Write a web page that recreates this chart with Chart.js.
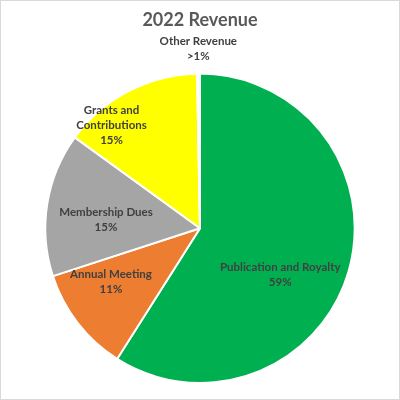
<!DOCTYPE html>
<html>
<head>
<meta charset="utf-8">
<script src="https://cdn.jsdelivr.net/npm/chart.js@4"></script>
<style>
  html, body { margin: 0; padding: 0; background: #fff; }
  #wrap { width: 400px; height: 400px; }
</style>
</head>
<body>
<div id="wrap"><canvas id="chart" width="400" height="400"></canvas></div>
<script>
// chart data
const categories = ["Publication and Royalty", "Annual Meeting", "Membership Dues", "Grants and Contributions", "Other Revenue"]
const revenueShare = [59, 11, 15, 14.7, 0.3]
const shareLabels = ["59%", "11%", "15%", "15%", ">1%"]
// the "Other" sliver is too thin to show any colour in the original
const sliceColors = ["#00B050", "#ED7D31", "#A5A5A5", "#FFFF00", "#FFFFFF"]

// where each label sits relative to its slice (angle shift in deg, radius fraction, wrapped lines)
const labelPlacement = [
  { shift: 14, frac: 0.6, lines: ["Publication and Royalty"] },
  { shift: 7, frac: 0.67, lines: ["Annual Meeting"] },
  { shift: -4, frac: 0.61, lines: ["Membership Dues"] },
  { shift: -13, frac: 0.88, lines: ["Grants and", "Contributions"] },
  { shift: 0, frac: 1.16, lines: ["Other Revenue"] }
]

const FONT = "Lato, 'Open Sans', sans-serif"

const sliceLabels = {
  id: "sliceLabels",
  afterDatasetsDraw(chart) {
    const { ctx } = chart
    const meta = chart.getDatasetMeta(0)
    ctx.save()
    ctx.font = "bold 11.5px " + FONT
    ctx.fillStyle = "#404040"
    ctx.textAlign = "center"
    ctx.textBaseline = "middle"
    meta.data.forEach((arc, i) => {
      const p = labelPlacement[i]
      const mid = (arc.startAngle + arc.endAngle) / 2 + p.shift * Math.PI / 180
      const r = arc.outerRadius * p.frac
      const x = arc.x + Math.cos(mid) * r
      const y = arc.y + Math.sin(mid) * r
      const lines = p.lines.concat([shareLabels[i]])
      const lh = 15
      const top = y - (lines.length - 1) * lh / 2
      lines.forEach((t, k) => ctx.fillText(t, x, top + k * lh))
    })
    ctx.restore()
  }
}

const frame = {
  id: "frame",
  afterDraw(chart) {
    const { ctx, width, height } = chart
    ctx.save()
    ctx.strokeStyle = "#d9d9d9"
    ctx.lineWidth = 1
    ctx.strokeRect(0.5, 0.5, width - 1, height - 1)
    ctx.restore()
  }
}

new Chart(document.getElementById("chart"), {
  type: "pie",
  data: {
    labels: categories,
    datasets: [{
      data: revenueShare,
      backgroundColor: sliceColors,
      borderColor: "#ffffff",
      borderWidth: 2
    }]
  },
  options: {
    responsive: false,
    animation: false,
    layout: { padding: { top: 0, bottom: 16, left: 0, right: 0 } },
    plugins: {
      legend: { display: false },
      tooltip: { enabled: false },
      title: {
        display: true,
        text: "2022 Revenue",
        color: "#595959",
        font: { family: FONT, size: 18, weight: "bold" },
        padding: { top: 9, bottom: 42 }
      }
    }
  },
  plugins: [sliceLabels, frame]
})
</script>
</body>
</html>
